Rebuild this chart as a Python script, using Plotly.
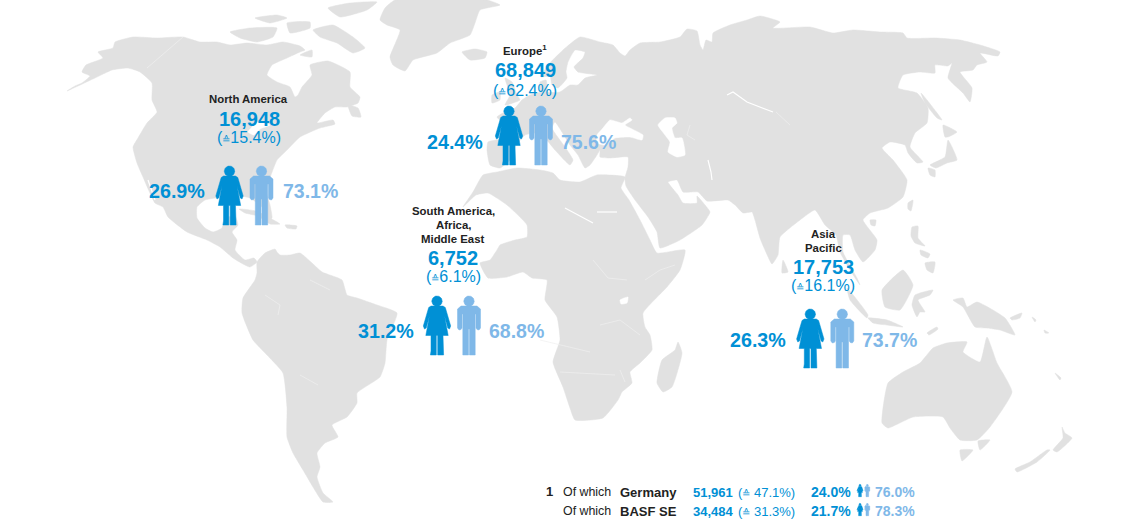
import numpy as np
import plotly.graph_objects as go

# ---------- colours ----------
LAND = "#e1e1e1"
BLUE = "#0090d5"
LIGHT = "#7fb8e8"
INK = "#222222"
BORDER = "#efefef"

# ---------- regional data ----------
regions = [["North America"], ["Europe<sup>1</sup>"], ["South America,", "Africa,", "Middle East"], ["Asia", "Pacific"]]
employees = ["16,948", "68,849", "6,752", "17,753"]
shares = ["15.4%", "62.4%", "6.1%", "16.1%"]
women = ["26.9%", "24.4%", "31.2%", "26.3%"]
men = ["73.1%", "75.6%", "68.8%", "73.7%"]

footer_names = ["Germany", "BASF SE"]
footer_employees = ["51,961", "34,484"]
footer_shares = ["47.1%", "31.3%"]
footer_women = ["24.0%", "21.7%"]
footer_men = ["76.0%", "78.3%"]

# ---------- map outlines ----------
NORTH_AMERICA = [(67,91),(75,86),(82,83),(90,76),(82,72),(86,65),(103,58),(98,52),(113,48),(115,42),(133,37),(157,38),(183,37),(200,42),(217,42),(230,45),(247,43),(267,45),(283,42),(300,46),(305,50),(300,52),(287,58),(272,65),(267,75),(277,82),(290,87),(295,97),(298,95),(302,87),(312,75),(310,65),(328,61),(350,72),(350,87),(360,97),(358,103),(347,107),(335,107),(325,113),(317,123),(333,120),(335,124),(320,128),(300,137),(287,150),(277,160),(271,175),(266,190),(270,205),(272,218),(268,220),(262,207),(250,198),(235,195),(222,197),(205,200),(197,207),(197,218),(205,228),(213,232),(222,228),(225,218),(235,216),(238,225),(232,232),(237,240),(235,250),(245,260),(254,258),(257,262),(250,267),(243,264),(233,258),(220,247),(207,240),(187,232),(168,217),(163,207),(155,203),(143,177),(137,163),(133,147),(138,138),(147,123),(157,112),(152,100),(152,83),(140,72),(128,68),(112,70),(95,78)]
SOUTH_AMERICA = [(257,262),(265,253),(275,249),(277,252),(280,255),(290,255),(300,253),(312,263),(322,272),(342,280),(347,295),(357,298),(377,305),(397,313),(387,340),(385,363),(380,377),(357,393),(357,403),(347,417),(332,425),(338,437),(325,443),(317,453),(320,467),(317,477),(323,493),(333,502),(323,502),(313,487),(303,470),(293,453),(287,437),(287,407),(283,373),(267,355),(253,340),(242,313),(243,298),(255,280),(257,273)]
GREENLAND = [(380,20),(387,25),(400,30),(390,57),(393,65),(405,71),(413,60),(437,53),(450,43),(470,35),(475,23),(480,10),(500,5),(487,0),(395,0),(385,8)]
ICELAND = [(462,52),(475,49),(487,52),(485,58),(470,60)]
AFRICA = [(483,175),(497,172),(517,168),(540,170),(553,173),(560,180),(580,182),(597,175),(625,177),(621,188),(629,200),(640,220),(650,240),(657,253),(685,250),(680,270),(667,287),(643,313),(645,327),(650,335),(652,350),(640,363),(630,372),(632,383),(622,392),(618,400),(603,418),(575,420),(570,408),(563,387),(553,362),(560,340),(557,317),(545,300),(547,280),(532,278),(523,272),(507,277),(488,278),(480,263),(490,260),(497,250),(500,245),(515,240),(527,237),(527,225),(507,205),(488,193),(476,195),(463,207),(473,192)]
EURASIA = [(500,168),(490,165),(487,150),(488,142),(505,138),(510,130),(497,117),(505,112),(515,108),(522,100),(530,95),(540,92),(540,82),(546,80),(548,92),(560,92),(570,85),(578,85),(585,78),(597,75),(578,72),(574,67),(583,58),(585,52),(575,50),(568,62),(566,72),(567,78),(558,88),(552,85),(550,76),(541,77),(548,65),(563,50),(580,37),(600,42),(613,45),(620,53),(625,56),(630,50),(640,43),(660,42),(680,37),(687,29),(697,31),(700,45),(703,50),(706,40),(712,42),(713,33),(730,25),(747,20),(760,16),(780,22),(773,28),(810,27),(833,33),(853,30),(880,32),(903,33),(907,38),(935,38),(960,40),(980,45),(1000,52),(998,56),(980,53),(987,62),(977,65),(973,70),(960,72),(972,88),(970,102),(963,93),(948,78),(952,63),(948,66),(935,65),(935,73),(920,72),(903,75),(898,88),(917,93),(928,108),(927,123),(915,133),(910,147),(923,162),(917,163),(908,153),(905,145),(890,142),(882,148),(893,160),(907,180),(903,197),(888,208),(870,213),(863,220),(877,240),(875,250),(863,262),(855,250),(850,235),(843,235),(843,252),(857,278),(860,285),(850,270),(840,252),(836,235),(825,225),(815,210),(800,220),(780,237),(778,255),(772,264),(765,250),(760,238),(755,220),(752,212),(743,213),(735,205),(728,200),(707,201),(698,192),(683,192),(677,180),(668,182),(678,195),(683,203),(697,203),(697,196),(705,205),(710,212),(702,225),(680,240),(660,248),(657,232),(648,217),(635,200),(626,186),(625,178),(628,167),(628,157),(610,158),(600,157),(600,150),(597,155),(590,165),(585,168),(578,155),(570,145),(555,122),(552,128),(565,147),(573,160),(570,165),(555,150),(540,133),(525,135),(515,147),(510,160)]
AUSTRALIA = [(882,423),(888,383),(903,372),(920,363),(933,348),(947,343),(967,342),(963,352),(980,362),(987,337),(997,363),(1012,392),(990,427),(977,440),(960,440),(950,428),(943,417),(913,417),(888,428)]
ISLANDS = [
    [(230,32),(250,28),(277,28),(273,37),(257,42),(240,38)],
    [(255,18),(277,15),(287,18),(270,23)],
    [(287,23),(310,22),(310,28),(290,33)],
    [(313,30),(333,25),(353,37),(365,48),(353,53),(337,43),(320,37)],
    [(300,55),(312,50),(312,57)],
    [(328,8),(350,3),(377,2),(367,10),(340,17)],
    [(348,105),(358,108),(361,117),(352,116)],
    [(239,209),(256,211),(270,218),(280,224),(270,224),(258,216),(245,213)],
    [(285,225),(297,226),(296,229),(287,228)],
    [(505,78),(512,82),(517,95),(520,100),(505,105),(510,95)],
    [(492,95),(500,92),(500,100),(492,103)],
    [(921,93),(927,100),(942,120),(937,118),(925,103)],
    [(943,125),(957,132),(948,137),(945,137)],
    [(948,140),(957,160),(947,163),(936,168),(930,165),(945,157)],
    [(928,168),(935,170),(935,177),(930,175)],
    [(908,203),(913,200),(911,211),(908,209)],
    [(870,220),(876,220),(875,226),(871,225)],
    [(912,227),(918,226),(918,238),(925,246),(915,243),(911,236)],
    [(925,263),(935,262),(933,273),(927,270)],
    [(920,250),(930,254),(928,258),(921,255)],
    [(882,290),(903,270),(913,285),(900,310),(885,307)],
    [(847,288),(868,315),(867,318),(850,300)],
    [(868,318),(887,320),(903,327),(887,325),(873,323)],
    [(915,295),(933,290),(930,295),(918,300),(925,312),(920,312),(917,317),(912,305)],
    [(927,333),(937,327),(938,329),(929,335)],
    [(953,300),(963,298),(967,307),(977,302),(1005,318),(1015,335),(1000,330),(987,328),(975,327),(963,307)],
    [(1010,318),(1022,313),(1020,318),(1012,320)],
    [(1032,317),(1036,320),(1035,322)],
    [(1044,330),(1049,333),(1045,333)],
    [(1055,373),(1061,378),(1060,380)],
    [(960,450),(973,450),(962,461)],
    [(978,441),(990,440),(980,450)],
    [(1062,427),(1065,433),(1072,438),(1057,452),(1053,450),(1063,438)],
    [(1050,450),(1037,462),(1017,472),(1015,469),(1030,462),(1047,450)],
    [(678,342),(682,353),(672,387),(663,392),(657,383),(662,360),(675,350)],
    [(783,260),(788,272),(782,273)],
]
WATER = [
    [(603,128),(610,120),(622,123),(630,118),(632,120),(625,125),(643,135),(642,140),(630,137),(615,138),(605,145),(597,143),(597,135)],
    [(658,125),(665,118),(675,118),(677,123),(672,128),(675,138),(682,138),(685,155),(677,157),(668,152),(670,142),(665,135)],
    [(248,132),(258,122),(270,125),(260,129),(254,135)],
    [(620,300),(628,297),(627,303),(621,304)],
]
RIVERS = [
    [(727,95),(733,92),(747,102),(773,112)],
    [(708,160),(711,172),(712,180)],
    [(565,208),(593,223)],
    [(597,212),(617,212)],
    [(148,180),(155,200)],
    [(150,106),(156,113)],
]
BORDERS = [
    [(147,68),(183,37)],
    [(593,260),(608,278),(627,280)],
    [(690,125),(687,135),(695,140)],
    [(776,112),(790,125)],
    [(265,295),(280,305),(278,315)],
    [(310,280),(330,290)],
    [(645,280),(660,270),(675,265)],
    [(300,375),(318,385)],
    [(600,325),(620,320),(640,335)],
    [(540,340),(590,352)],
    [(560,372),(615,375)],
    [(620,370),(625,382)],
]

# ---------- pictogram outlines (half figure, 59 px tall figure) ----------
WOMAN_HALF = [(0,10),(6,10),(8.3,11.5),(13.7,30),(12.5,33),(10.8,32),(7.5,20),(11.2,39.5),(6,39.5),(6,55),(6.6,59),(0.7,59),(0.7,39.5)]
MAN_HALF = [(0,10),(8,10),(11.5,13),(11.5,32),(10,34),(8,33.5),(7,32),(7,18),(6.2,18),(6.2,59),(0.5,59),(0.5,33)]
HEAD_R, HEAD_DY = 5.2, 5.2

fig = go.Figure()


def poly(points, color, name, smooth=0.0):
    line = dict(color=color, width=0.5)
    if smooth:
        line.update(shape="spline", smoothing=smooth)
    fig.add_trace(go.Scatter(x=[p[0] for p in points] + [points[0][0]],
                             y=[p[1] for p in points] + [points[0][1]],
                             mode="lines", fill="toself", fillcolor=color, line=line,
                             hoverinfo="skip", showlegend=False, name=name))


def stroke(lines, color, width, name):
    for pts in lines:
        fig.add_trace(go.Scatter(x=[p[0] for p in pts], y=[p[1] for p in pts], mode="lines",
                                 line=dict(color=color, width=width), hoverinfo="skip",
                                 showlegend=False, name=name))


for nm, land in [("North America", NORTH_AMERICA), ("South America", SOUTH_AMERICA), ("Greenland", GREENLAND),
                 ("Iceland", ICELAND), ("Africa", AFRICA), ("Eurasia", EURASIA), ("Australia", AUSTRALIA)]:
    poly(land, LAND, nm, 0.45)
for island in ISLANDS:
    poly(island, LAND, "island", 0.45)
for water in WATER:
    poly(water, "#ffffff", "water", 0.45)
stroke(RIVERS, "#ffffff", 1.2, "river")
stroke(BORDERS, BORDER, 0.7, "border")


def figure_icon(half, cx, top, scale, color):
    right = [(cx + dx * scale, top + dy * scale) for dx, dy in half]
    left = [(cx - dx * scale, top + dy * scale) for dx, dy in reversed(half)]
    poly(right + left, color, "body")
    t = np.linspace(0, 2 * np.pi, 40)
    head = list(zip(cx + HEAD_R * scale * np.cos(t), top + (HEAD_DY + HEAD_R * np.sin(t)) * scale))
    poly(head, color, "head")


icon_woman_x = [229.5, 509, 437, 810.3]
icon_man_x = [261.5, 541, 469, 842.3]
icon_top = [166, 106, 296, 309]
for wx, mx, top in zip(icon_woman_x, icon_man_x, icon_top):
    figure_icon(WOMAN_HALF, wx, top, 1, BLUE)
    figure_icon(MAN_HALF, mx, top, 1, LIGHT)
for top in [484.3, 503.3]:
    figure_icon(WOMAN_HALF, 860, top, 0.21, BLUE)
    figure_icon(MAN_HALF, 867.3, top, 0.21, LIGHT)

FONT = "Liberation Sans"
anns = []


def txt(x, y, s, size, color, bold=False, anchor="center"):
    anns.append(dict(x=x, y=y, xref="x", yref="y", text=f"<b>{s}</b>" if bold else s, showarrow=False,
                     xanchor=anchor, yanchor="middle", align="center",
                     font=dict(family=FONT, size=size, color=color), borderpad=0, borderwidth=0))


def equiv(s, gap=""):
    return f'(<span style="font-size:10px">≙</span>{gap}{s})'


label_x = [248, 525, 453, 823]
label_y = [[99], [50], [211, 225, 238.5], [234, 248]]
value_x = [249, 525, 453, 823]
value_y = [119, 70, 258, 267]
share_y = [137, 90, 276, 285]
left_x = [177, 455, 386, 758]
right_x = [310, 588, 516, 889.5]
pct_y = [191, 142, 331, 340]
for i in range(4):
    for line_text, ly in zip(regions[i], label_y[i]):
        txt(label_x[i], ly, line_text, 11.4, INK, bold=True)
    txt(value_x[i], value_y[i], employees[i], 20, BLUE, bold=True)
    txt(value_x[i], share_y[i], equiv(shares[i]), 16, BLUE)
    txt(left_x[i], pct_y[i], women[i], 19.7, BLUE, bold=True)
    txt(right_x[i], pct_y[i], men[i], 19.5, LIGHT, bold=True)

txt(546, 491.5, "1", 13, INK, bold=True, anchor="left")
row_y = [492, 511]
for i in range(2):
    txt(563, row_y[i], "Of which", 12.4, INK, anchor="left")
    txt(620, row_y[i], footer_names[i], 13, INK, bold=True, anchor="left")
    txt(693, row_y[i], footer_employees[i], 13, BLUE, bold=True, anchor="left")
    txt(738, row_y[i], equiv(footer_shares[i], " "), 13, BLUE, anchor="left")
    txt(811, row_y[i], footer_women[i], 14, BLUE, bold=True, anchor="left")
    txt(875, row_y[i], footer_men[i], 14, LIGHT, bold=True, anchor="left")

fig.update_layout(width=1140, height=525, margin=dict(l=0, r=0, t=0, b=0), autosize=False,
                  paper_bgcolor="#ffffff", plot_bgcolor="#ffffff", showlegend=False,
                  annotations=anns,
                  xaxis=dict(range=[0, 1140], visible=False, fixedrange=True),
                  yaxis=dict(range=[525, 0], visible=False, fixedrange=True))
fig.write_html("out.html", post_script="document.body.style.margin='0';", config={"displayModeBar": False})
